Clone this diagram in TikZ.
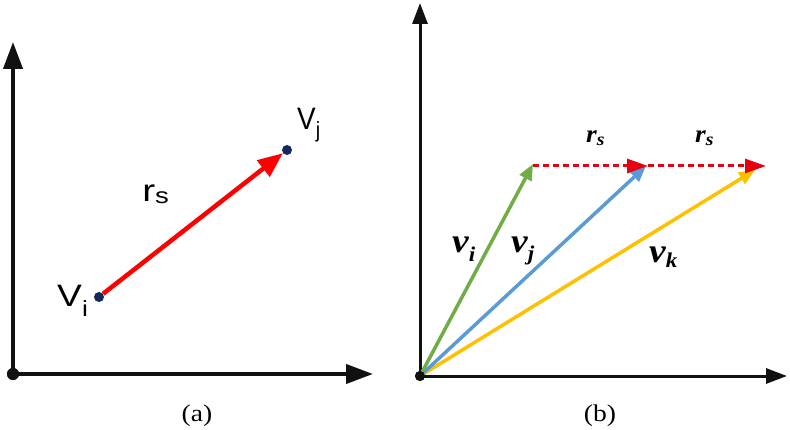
\documentclass[tikz,border=0pt]{standalone}
\usepackage{fontspec}
\setmainfont{Liberation Serif}
\newfontfamily\labsans{Liberation Sans}
\usetikzlibrary{arrows.meta}
\definecolor{axisblk}{HTML}{111111}
\definecolor{dotblue}{HTML}{14285A}
\definecolor{vgreen}{HTML}{70AD47}
\definecolor{vblue}{HTML}{5B9BD5}
\definecolor{vyellow}{HTML}{FFC000}
\definecolor{vred}{HTML}{E60012}
\newcommand\fsz[1]{\fontsize{#1}{#1}\selectfont}
\tikzset{
  axisA/.style={axisblk, line width=4pt, -{Triangle[length=27pt,width=19pt]}},
  axisB/.style={axisblk, line width=3pt, -{Triangle[length=21pt,width=15pt]}},
  origdot/.style={circle, fill=axisblk, inner sep=0pt, minimum size=#1},
  ptdot/.style={circle, fill=dotblue, inner sep=0pt, minimum size=10pt},
  redvec/.style={red, line width=4.5pt, -{Triangle[length=25pt,width=20pt]}},
  colvec/.style={#1, line width=3.5pt, -{Triangle[length=16pt,width=13pt]}},
  dashvec/.style={vred, line width=3pt, dash pattern=on 6pt off 4pt, -{Triangle[length=21pt,width=14pt]}},
  sanslab/.style={inner sep=0pt, anchor=base west, font=\labsans\fsz{31}},
  serlab/.style={inner sep=0pt, anchor=base west, xscale=1.1, font=\bfseries\itshape\fsz{#1}},
  caption/.style={inner sep=0pt, xscale=1.15, font=\fsz{24}}
}
\begin{document}
\begin{tikzpicture}[x=1pt,y=-1pt]
\useasboundingbox (0,0) rectangle (790,430);
% ---------- panel (a)
\coordinate (ya) at (13,42);
\coordinate (xa) at (373,374);
\node[origdot=12pt] (oa) at (13,374) {};
\draw[axisA] (oa.center) -- (ya);
\draw[axisA] (oa.center) -- (xa);
\node[origdot=12pt] at (13,374) {};
\node[ptdot] (vi) at (99,297) {};
\node[ptdot] (vj) at (287,150) {};
\draw[redvec] (vi) -- (vj);
\node[sanslab, xscale=1.2] (lvi) at (57,307) {V\raisebox{-10pt}{\fsz{22}i}};
\node[sanslab, xscale=0.9] (lvj) at (297,130) {V\raisebox{-8pt}{\fsz{22}j}};
\node[sanslab, xscale=1.25] (lrs) at (142,202) {r\raisebox{-2pt}{\fsz{22}s}};
\node[caption] (capa) at (197,416) {(a)};
% ---------- panel (b)
\coordinate (yb) at (420,3);
\coordinate (xb) at (787,376);
\coordinate (ti) at (533,164);
\coordinate (tj) at (646,166);
\coordinate (tk) at (755,170);
\coordinate (di) at (533,166);
\coordinate (dj) at (648,166);
\coordinate (dk) at (766,166);
\node[origdot=10pt] (ob) at (420,376) {};
\draw[axisB] (ob.center) -- (yb);
\draw[axisB] (ob.center) -- (xb);
\draw[colvec=vyellow] (ob.center) -- (tk);
\draw[colvec=vblue] (ob.center) -- (tj);
\draw[colvec=vgreen] (ob.center) -- (ti);
\draw[dashvec] (di) -- (dj);
\draw[dashvec] (dj) -- (dk);
\node[origdot=10pt] at (420,376) {};
\node[serlab=25] (lrs1) at (586,143) {r\raisebox{-3pt}{\fsz{18}s}};
\node[serlab=25] (lrs2) at (695,143) {r\raisebox{-3pt}{\fsz{18}s}};
\node[serlab=34] (lvib) at (452,253) {v\raisebox{-9pt}{\fsz{21}i}};
\node[serlab=34] (lvjb) at (511,253) {v\raisebox{-8pt}{\fsz{21}j}};
\node[serlab=34] (lvkb) at (649,263) {v\raisebox{-5pt}{\fsz{21}k}};
\node[caption] (capb) at (600,416) {(b)};
\end{tikzpicture}
\end{document}
